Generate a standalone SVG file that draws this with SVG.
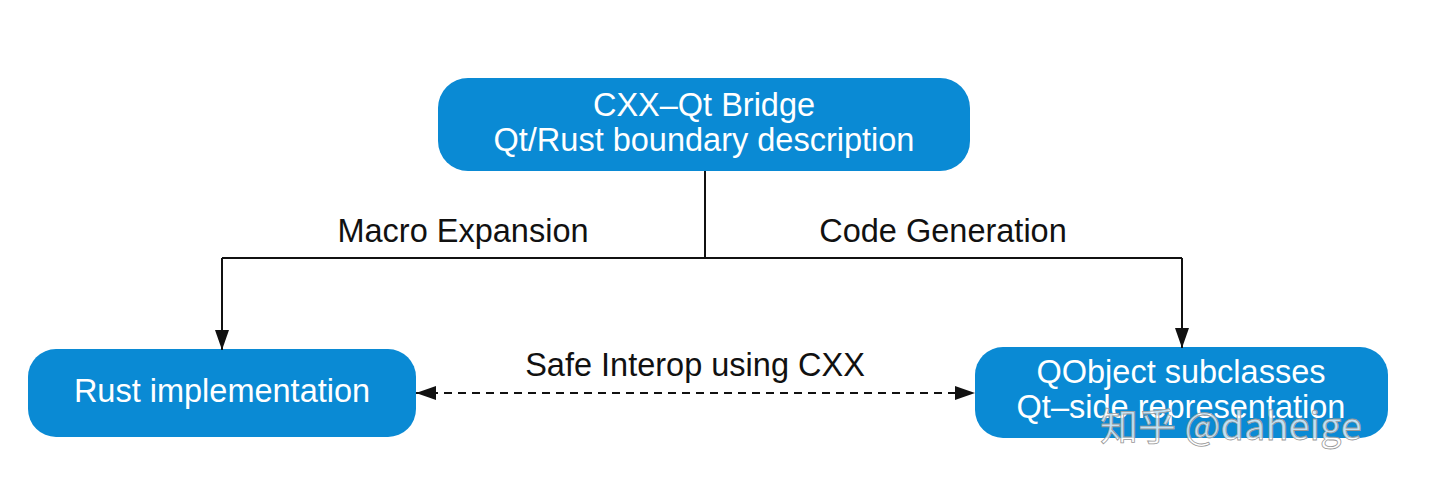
<svg xmlns="http://www.w3.org/2000/svg" width="1440" height="491" viewBox="0 0 1440 491">
<style>
.box{fill:#0a8ad4}
.t{font-family:"Liberation Sans",Arial,sans-serif;font-size:32.5px;text-anchor:middle}
.w{fill:#fff}
.k{fill:#111}
.ln{stroke:#111;stroke-width:2;fill:none}
</style>
<defs>
<marker id="b" viewBox="0 0 20 14" refX="20" refY="7" markerWidth="20" markerHeight="14" markerUnits="userSpaceOnUse" orient="auto-start-reverse"><path d="M0,0 L20,7 L0,14 z" fill="#111"/></marker>
</defs>
<rect width="1440" height="491" fill="#fff"/>
<g id="bridge"><rect class="box" x="438" y="78" width="532" height="93" rx="30"/>
<text class="t w" x="704" y="116">CXX–Qt Bridge</text><text class="t w" x="704" y="151">Qt/Rust boundary description</text></g>
<g id="rust"><rect class="box" x="28" y="349" width="388" height="88" rx="28"/>
<text class="t w" x="222" y="402">Rust implementation</text></g>
<g id="qobject"><rect class="box" x="975" y="347" width="413" height="91" rx="28"/>
<text class="t w" x="1181" y="383">QObject subclasses</text><text class="t w" x="1181" y="418">Qt–side representation</text></g>
<g id="connectors">
<path class="ln" d="M705,171 V258 M222,258 H1182"/>
<path class="ln" d="M222,258 V350" marker-end="url(#b)"/>
<path class="ln" d="M1182,258 V348" marker-end="url(#b)"/>
<path class="ln" d="M416,393 H975" stroke-dasharray="8,6" marker-start="url(#b)" marker-end="url(#b)"/>
<text class="t k" x="463" y="242">Macro Expansion</text>
<text class="t k" x="943" y="242">Code Generation</text>
<text class="t k" x="695" y="376">Safe Interop using CXX</text>
</g>
<text x="1100" y="440" font-family="'Noto Sans CJK SC',sans-serif" font-size="38" fill="#fff" fill-opacity="0.75" stroke="#999" stroke-width="0.8">知乎 @daheige</text>
</svg>
